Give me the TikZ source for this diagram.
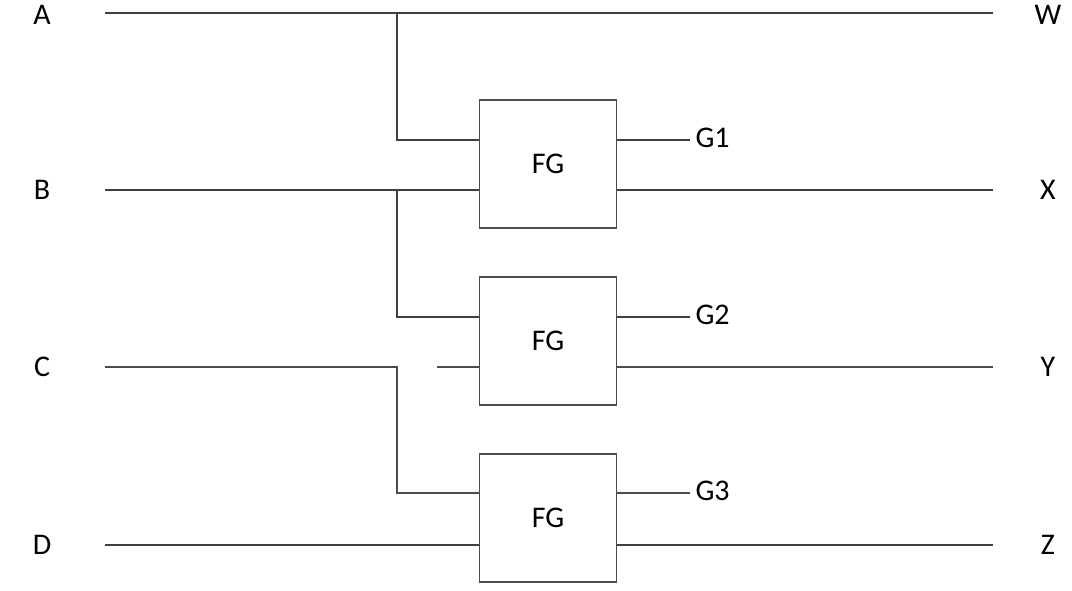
\documentclass[tikz,border=0pt]{standalone}
\usepackage{fontspec}
\setmainfont{Carlito}
\begin{document}
\begin{tikzpicture}[x=1pt,y=-1pt,
  ln/.style={line width=2pt,black!75},
  thin/.style={line width=1.4pt,black!70},
  box/.style={draw=black!70,line width=1.6pt,minimum width=137pt,minimum height=128pt,inner sep=0pt,font=\fontsize{30}{34}\selectfont},
  lab/.style={font=\fontsize{30}{34}\selectfont}]
\useasboundingbox (0,0) rectangle (1072,591);
\node[lab] (A) at (42,15) {A};
\node[lab] (B) at (42,190) {B};
\node[lab] (C) at (42,367) {C};
\node[lab] (D) at (42,545) {D};
\node[lab] (W) at (1048,15) {W};
\node[lab] (X) at (1048,190) {X};
\node[lab] (Y) at (1048,367) {Y};
\node[lab] (Z) at (1048,545) {Z};
\node[box] (f1) at (548,164) {FG};
\node[box] (f2) at (548,341) {FG};
\node[box] (f3) at (548,518) {FG};
\coordinate (a0) at (105,13); \coordinate (a1) at (993,13);
\coordinate (b0) at (105,190); \coordinate (b1) at (993,190);
\coordinate (c0) at (105,367); \coordinate (c1) at (993,367);
\coordinate (d0) at (105,545); \coordinate (d1) at (993,545);
\draw[ln] (a0) -- (a1);
\draw[ln] (397,13) |- (f1.west |- 0,140);
\draw[ln] (b0) -- (f1.west |- b0);
\draw[ln] (f1.east |- b0) -- (b1);
\draw[ln] (397,190) |- (f2.west |- 0,317);
\draw[thin] (c0) -- (397,367) |- (f3.west |- 0,493);
\draw[thin] (437,367) -- (f2.west |- c0);
\draw[thin] (f2.east |- c0) -- (c1);
\draw[ln] (d0) -- (f3.west |- d0);
\draw[ln] (f3.east |- d0) -- (d1);
\coordinate (g1) at (690,140); \coordinate (g2) at (690,317); \coordinate (g3) at (690,493);
\draw[ln] (f1.east |- g1) -- (g1);
\draw[ln] (f2.east |- g2) -- (g2);
\draw[thin] (f3.east |- g3) -- (g3);
\node[lab,anchor=west] (G1) at (692,138) {G1};
\node[lab,anchor=west] (G2) at (692,315) {G2};
\node[lab,anchor=west] (G3) at (692,491) {G3};
\end{tikzpicture}
\end{document}
